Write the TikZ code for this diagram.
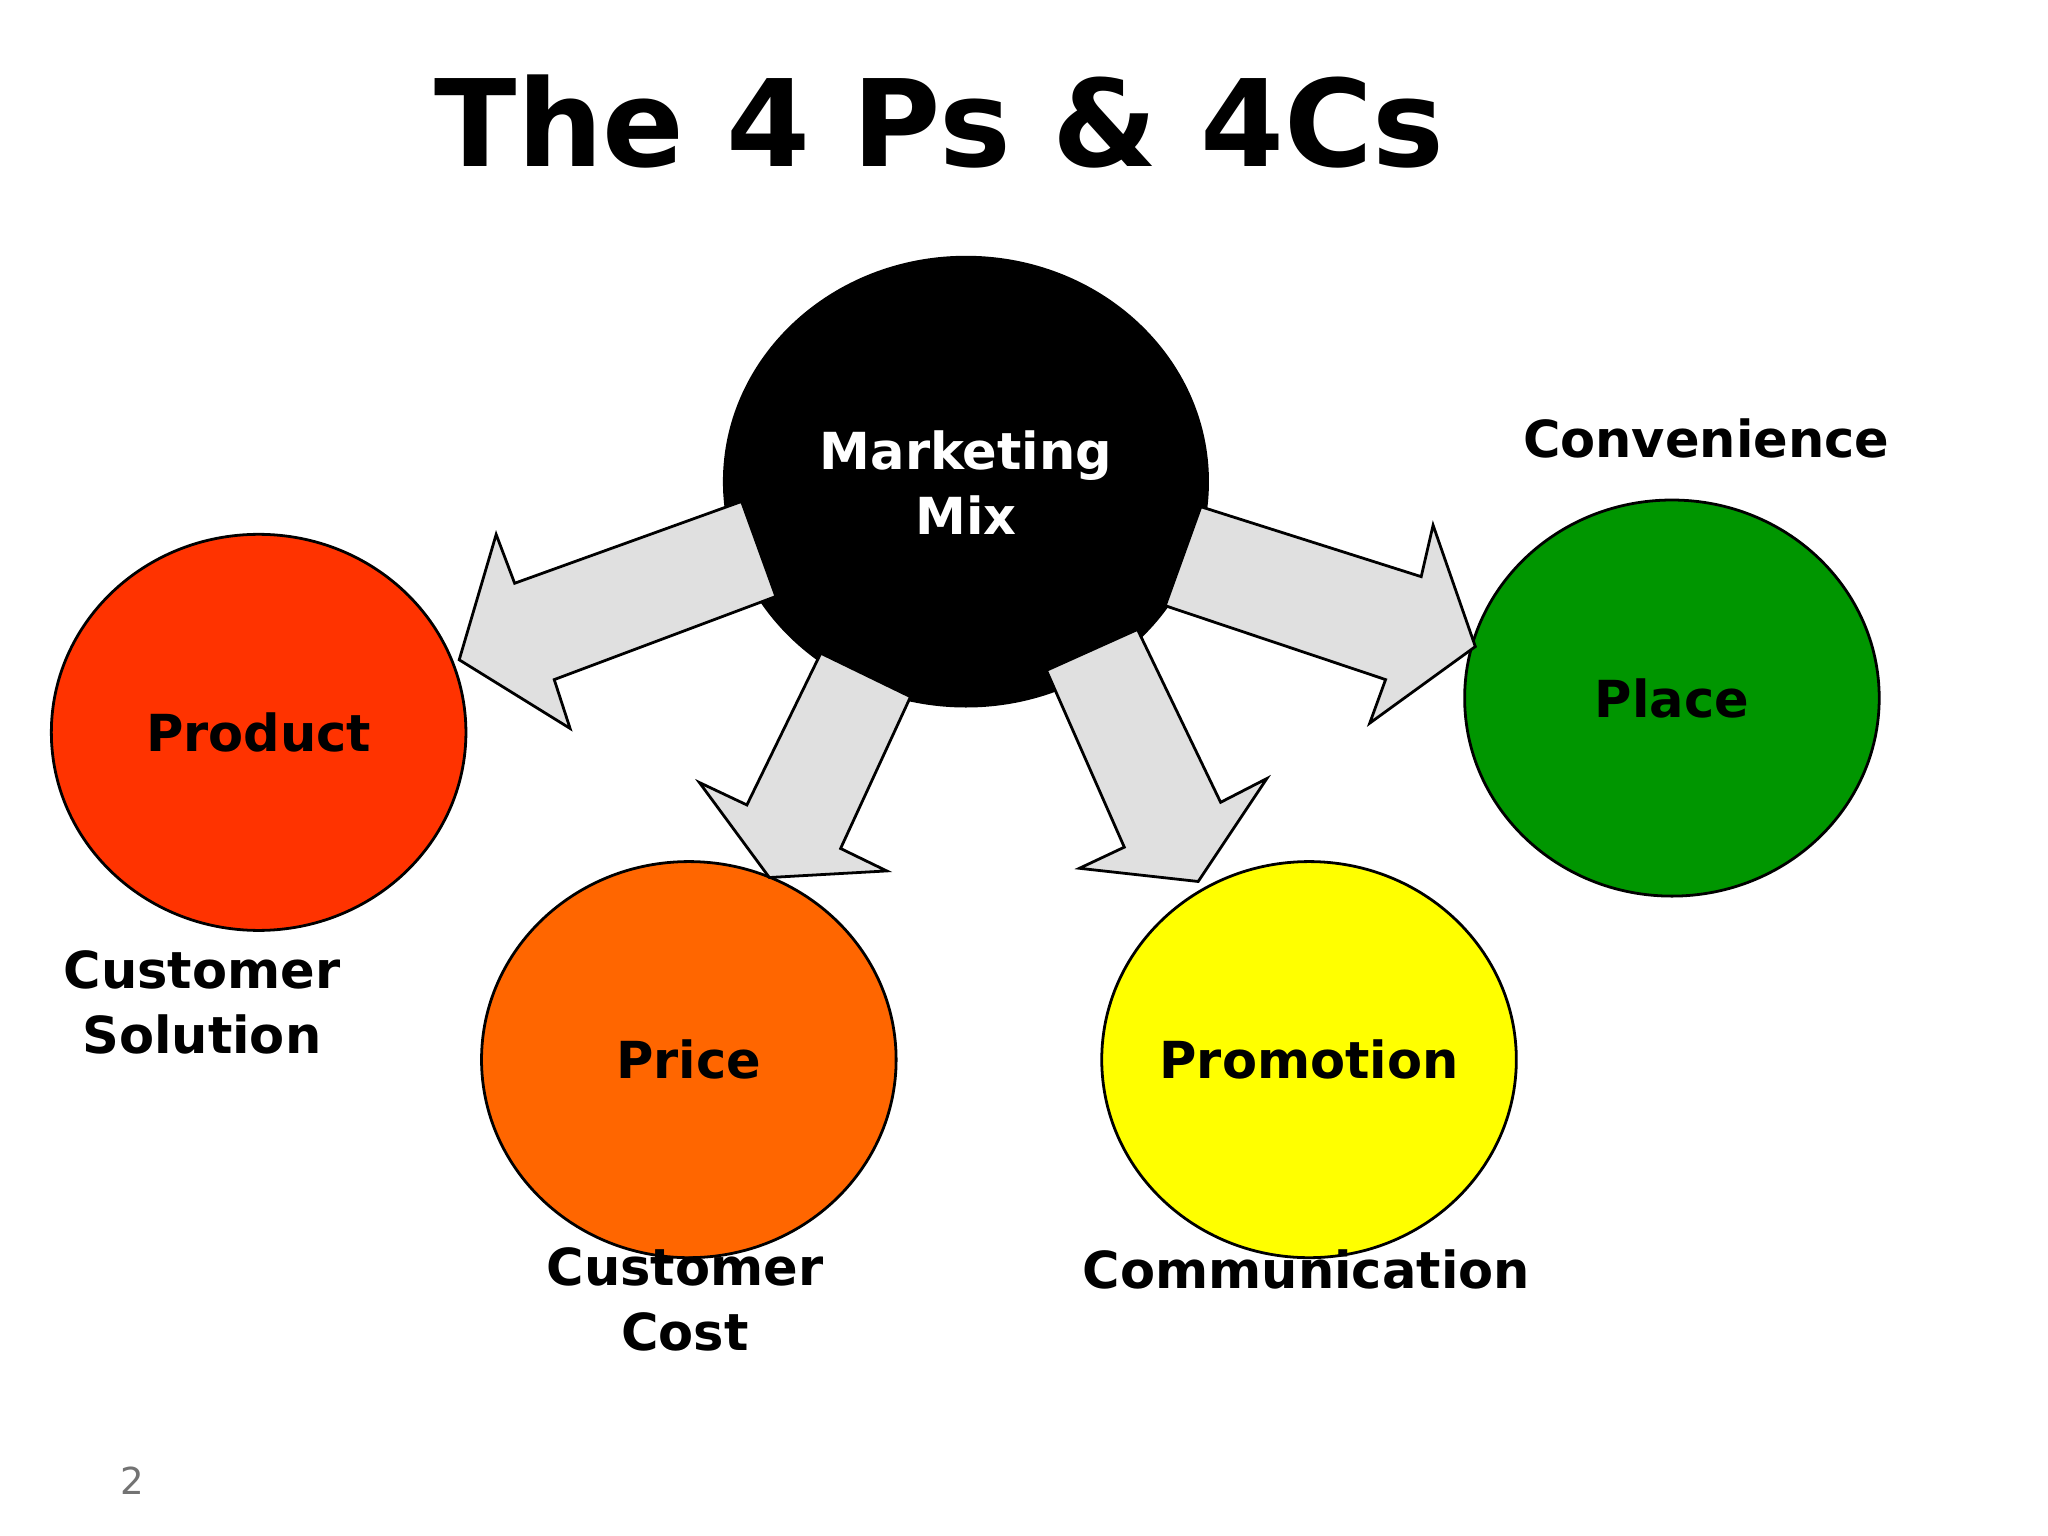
\documentclass[tikz,border=0pt]{standalone}
\usepackage{fontspec}
\setmainfont{DejaVu Sans}
\usetikzlibrary{shapes.geometric}
\begin{document}
\begin{tikzpicture}[x=0.01cm,y=-0.01cm,
  ball/.style={ellipse,draw=black,line width=0.6pt,inner sep=0pt},
  lbl/.style={font=\bfseries\fontsize{11}{14}\selectfont,align=center},
  blockarrow/.style={fill=black!12,draw=black,line width=0.6pt}]
\useasboundingbox (0,0) rectangle (1552,1164);
\node[font=\bfseries\fontsize{26}{30}\selectfont] (title) at (712,92) {The 4 Ps \& 4Cs};
\node[ball,fill=black,minimum width=366\pgflinewidth*0+3.66cm,minimum height=3.40cm] (mix) at (732,365) {};
\node[lbl,text=white] (mixt) at (732,366) {Marketing\\Mix};
\node[ball,fill=red!80!orange,fill={rgb,255:red,255;green,51;blue,0},minimum width=3.14cm,minimum height=3.0cm] (prod) at (196,555) {};
\node[lbl] at (prod) {Product};
\node[ball,fill={rgb,255:red,255;green,102;blue,0},minimum width=3.14cm,minimum height=3.0cm] (price) at (522,803) {};
\node[lbl] at (price) {Price};
\node[ball,fill={rgb,255:red,255;green,255;blue,0},minimum width=3.14cm,minimum height=3.0cm] (promo) at (992,803) {};
\node[lbl] at (promo) {Promotion};
\node[ball,fill={rgb,255:red,0;green,150;blue,0},minimum width=3.14cm,minimum height=3.0cm] (place) at (1267,529) {};
\node[lbl] at (place) {Place};
\draw[blockarrow] (562,380) -- (390,442) -- (376,405) -- (348,500) -- (432,552) -- (420,515) -- (588,452) -- cycle;
\draw[blockarrow] (622,495) -- (566,610) -- (530,593) -- (583,665) -- (672,660) -- (637,643) -- (690,528) -- cycle;
\draw[blockarrow] (793,508) -- (852,642) -- (818,658) -- (908,668) -- (960,590) -- (925,608) -- (862,477) -- cycle;
\draw[blockarrow] (910,384) -- (883,459) -- (1050,515) -- (1038,548) -- (1118,490) -- (1086,398) -- (1077,437) -- cycle;
\node[lbl] (c1) at (153,760) {Customer\\Solution};
\node[lbl] (c2) at (519,985) {Customer\\Cost};
\node[lbl] (c3) at (990,962) {Communication};
\node[lbl] (c4) at (1293,332) {Convenience};
\node[text=black!55,font=\fontsize{8}{10}\selectfont] (pg) at (100,1122) {2};
\end{tikzpicture}
\end{document}
